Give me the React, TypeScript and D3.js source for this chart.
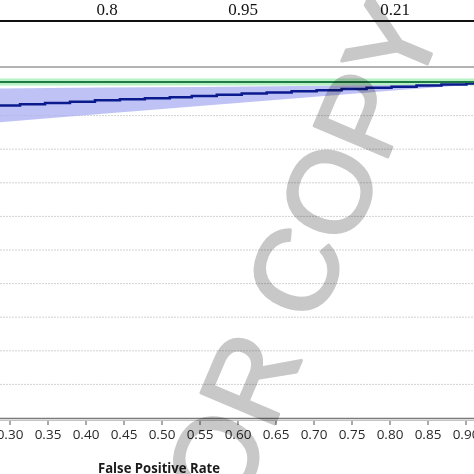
import React from "react";
import * as d3 from "d3";

const W = 474;
const H = 474;

// Top table row values
const tableValues = ["0.8", "0.95", "0.21"];
const tableX = [107, 243, 395];

// X axis ticks (False Positive Rate)
const xTicks = [0.3, 0.35, 0.4, 0.45, 0.5, 0.55, 0.6, 0.65, 0.7, 0.75, 0.8, 0.85, 0.9];
const yGrid = [0.1, 0.2, 0.3, 0.4, 0.5, 0.6, 0.7, 0.8, 0.9];

// Mean ROC curve (step after)
const meanFpr = [0.28, 0.3132, 0.3461, 0.3789, 0.4118, 0.4446, 0.4775, 0.5103, 0.5392, 0.5721, 0.6049, 0.6378, 0.6706, 0.7035, 0.7363, 0.7692, 0.802, 0.8349, 0.8677, 0.9006, 0.92];
const meanTpr = [0.9301, 0.9336, 0.9375, 0.9414, 0.9455, 0.9488, 0.9518, 0.9548, 0.9583, 0.9619, 0.9655, 0.9688, 0.9723, 0.9756, 0.9792, 0.9827, 0.986, 0.9896, 0.9926, 0.9955, 0.9955];

// +/- 1 std band
const bandFpr = [0.28, 0.4183, 0.5497, 0.6811, 0.8126, 0.92];
const bandUpper = [0.9807, 0.9836, 0.9851, 0.9881, 0.9911, 0.9958];
const bandLower = [0.879, 0.9048, 0.9286, 0.9524, 0.9762, 0.994];

// Perfect classifier / reference line
const refFpr = [0.28, 0.92];
const refTpr = [1.0, 1.0];

export default function App() {
  const x = d3.scaleLinear().domain([0.3, 0.9]).range([10, 466]);
  const y = d3.scaleLinear().domain([0, 1]).range([418, 82]);

  const meanPts = meanFpr.map((f, i) => [f, meanTpr[i]] as [number, number]);
  const meanLine = d3
    .line<[number, number]>()
    .x((d) => x(d[0]))
    .y((d) => y(d[1]))
    .curve(d3.curveStepAfter)(meanPts) as string;

  const bandPts = bandFpr.map((f, i) => ({ f, u: bandUpper[i], l: bandLower[i] }));
  const band = d3
    .area<{ f: number; u: number; l: number }>()
    .x((d) => x(d.f))
    .y0((d) => y(d.l))
    .y1((d) => y(d.u))(bandPts) as string;

  const refPts = refFpr.map((f, i) => [f, refTpr[i]] as [number, number]);
  const refLine = d3
    .line<[number, number]>()
    .x((d) => x(d[0]))
    .y((d) => y(d[1]))(refPts) as string;

  return (
    <svg
      width={W}
      height={H}
      viewBox={`0 0 ${W} ${H}`}
      style={{ position: "fixed", left: 0, top: 0, background: "#fff" }}
    >
      <rect x={0} y={0} width={W} height={H} fill="#fff" />
      {/* table row */}
      {tableValues.map((t, i) => (
        <text
          key={t}
          x={tableX[i]}
          y={15}
          textAnchor="middle"
          fontFamily="'Liberation Serif', 'DejaVu Serif', serif"
          fontSize={17}
          fill="#111"
        >
          {t}
        </text>
      ))}
      <line x1={0} x2={W} y1={21} y2={21} stroke="#111" strokeWidth={2} />

      {/* plot top border */}
      <line x1={0} x2={W} y1={67} y2={67} stroke="#9a9a9a" strokeWidth={1.5} />

      {/* grid */}
      {yGrid.map((g) => (
        <line
          key={g}
          x1={0}
          x2={W}
          y1={y(g)}
          y2={y(g)}
          stroke="#d2d2d2"
          strokeWidth={1}
          strokeDasharray="2,1"
        />
      ))}

      {/* green halo */}
      <path d={refLine} fill="none" stroke="#b6f2c4" strokeWidth={7} />
      {/* std band */}
      <path d={band} fill="#a9aef0" fillOpacity={0.75} stroke="none" />
      {/* mean ROC */}
      <path d={meanLine} fill="none" stroke="#0b1a8c" strokeWidth={2.5} />
      {/* reference line */}
      <path d={refLine} fill="none" stroke="#1f7a45" strokeWidth={2} />

      {/* x axis */}
      <line x1={0} x2={W} y1={418.5} y2={418.5} stroke="#7a7a7a" strokeWidth={1.5} />
      <line x1={0} x2={W} y1={420.5} y2={420.5} stroke="#c4c4c4" strokeWidth={1} />
      {xTicks.map((t) => (
        <g key={t}>
          <line x1={x(t)} x2={x(t)} y1={421} y2={425} stroke="#555" strokeWidth={1} />
          <text
            x={x(t)}
            y={439}
            textAnchor="middle"
            fontFamily="'Open Sans', sans-serif"
            fontSize={13.5}
            fill="#2a2a2a"
          >
            {t.toFixed(2)}
          </text>
        </g>
      ))}
      <text
        x={159}
        y={473}
        textAnchor="middle"
        fontFamily="'Open Sans', sans-serif"
        fontWeight="bold"
        fontSize={14}
        fill="#1a1a1a"
        textLength={122}
        lengthAdjust="spacingAndGlyphs"
      >
        False Positive Rate
      </text>

      {/* watermark */}
      <g transform="translate(316,326) rotate(-67)" style={{ mixBlendMode: "multiply" }}>
        <text
          x={-522}
          y={0}
          fontFamily="'Liberation Sans', Arial, sans-serif"
          fontSize={116}
          fill="#c8c8c8"
          stroke="#c8c8c8"
          strokeWidth={3}
          strokeLinejoin="round"
        >
          AUTHOR COPY
        </text>
      </g>
    </svg>
  );
}
